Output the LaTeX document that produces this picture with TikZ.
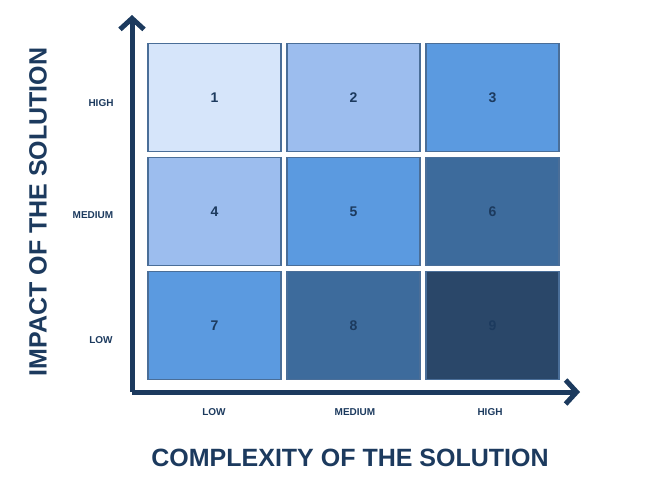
\documentclass[tikz,border=0pt]{standalone}
\usepackage{fontspec}
\setmainfont{Liberation Sans}
\usetikzlibrary{arrows.meta}
\definecolor{navy}{HTML}{1C3A5E}
\definecolor{cA}{HTML}{D6E5FA}
\definecolor{cB}{HTML}{9CBDEE}
\definecolor{cC}{HTML}{5B9AE0}
\definecolor{cD}{HTML}{3D6B9C}
\definecolor{cE}{HTML}{2A4769}
\definecolor{edgec}{HTML}{4A6E98}
\begin{document}
\begin{tikzpicture}[x=1pt,y=-1pt,
  cell/.style={draw=edgec,line width=1.5pt,minimum width=133pt,minimum height=108pt,inner sep=0pt,font=\bfseries\fontsize{14}{16}\selectfont,text=navy},
  lab/.style={font=\bfseries\fontsize{10}{12}\selectfont,text=navy},
  title/.style={font=\bfseries\fontsize{25}{28}\selectfont,text=navy},
  axis/.style={draw=navy,line width=5pt,-{Straight Barb[length=11pt,width=24pt,line width=5pt]}}]
\useasboundingbox (0,0) rectangle (646,493);
\node[cell,fill=cA] (c1) at (214.5,97.5) {1};
\node[cell,fill=cB] (c2) at (353.5,97.5) {2};
\node[cell,fill=cC] (c3) at (492.5,97.5) {3};
\node[cell,fill=cB] (c4) at (214.5,211.5) {4};
\node[cell,fill=cC] (c5) at (353.5,211.5) {5};
\node[cell,fill=cD] (c6) at (492.5,211.5) {6};
\node[cell,fill=cC] (c7) at (214.5,325.5) {7};
\node[cell,fill=cD] (c8) at (353.5,325.5) {8};
\node[cell,fill=cE] (c9) at (492.5,325.5) {9};
\coordinate (o) at (132,392);
\coordinate (yt) at (132,15);
\coordinate (xr) at (580,392);
\draw[axis] (o) -- (yt);
\draw[axis] (o) -- (xr);
\node[lab] (yh) at (101,103) {HIGH};
\node[lab] (ym) at (93,215) {MEDIUM};
\node[lab] (yl) at (101,340) {LOW};
\node[lab] (xl) at (214,412) {LOW};
\node[lab] (xm) at (355,412) {MEDIUM};
\node[lab] (xh) at (490,412) {HIGH};
\node[title] (tx) at (350,458) {COMPLEXITY OF THE SOLUTION};
\node[title,rotate=90] (ty) at (38,212) {IMPACT OF THE SOLUTION};
\end{tikzpicture}
\end{document}
